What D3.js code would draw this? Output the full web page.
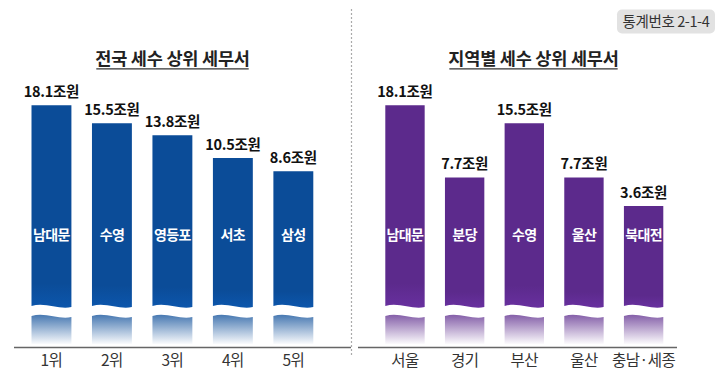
<!DOCTYPE html>
<html><head><meta charset="utf-8">
<script src="https://cdn.jsdelivr.net/npm/d3@7/dist/d3.min.js"></script>
<style>
html,body{margin:0;padding:0;background:#fff;}
svg{display:block;font-family:"Noto Sans CJK KR","Noto Sans",sans-serif;}
</style></head>
<body>
<svg id="chart" width="720" height="382"></svg>
<script>
// ---- data ----
const leftTitle = "전국 세수 상위 세무서";
const leftCategories = ["1위", "2위", "3위", "4위", "5위"];
const leftOffices = ["남대문", "수영", "영등포", "서초", "삼성"];
const leftValues = [18.1, 15.5, 13.8, 10.5, 8.6];

const rightTitle = "지역별 세수 상위 세무서";
const rightCategories = ["서울", "경기", "부산", "울산", "충남·세종"];
const rightOffices = ["남대문", "분당", "수영", "울산", "북대전"];
const rightValues = [18.1, 7.7, 15.5, 7.7, 3.6];

const unit = "조원";
const badgeText = "통계번호 2-1-4";

// ---- drawing ----
const svg = d3.select("#chart");
const defs = svg.append("defs");

const y = d3.scaleLinear().domain([0, 18.1]).range([230.9, 105.3]);
const barBottom = 344;
const waveUpper = 306;
const waveLower = 316;
const axisY = 347.5;

function gradient(id, color) {
  const g = defs.append("linearGradient").attr("id", id)
    .attr("x1", 0).attr("y1", 0).attr("x2", 0).attr("y2", 1);
  g.append("stop").attr("offset", "0%").attr("stop-color", color).attr("stop-opacity", 0.75);
  g.append("stop").attr("offset", "100%").attr("stop-color", color).attr("stop-opacity", 0.02);
  const g2 = defs.append("linearGradient").attr("id", id + "u")
    .attr("x1", 0).attr("y1", 0).attr("x2", 0).attr("y2", 1);
  g2.append("stop").attr("offset", "0%").attr("stop-color", color);
  g2.append("stop").attr("offset", "88%").attr("stop-color", color);
  g2.append("stop").attr("offset", "100%").attr("stop-color", d3.color(color).brighter(0.35));
}

function panel(opts) {
  const { cats, offices, values, color, range, title, titleX, axisRange, id } = opts;
  gradient(id, color);
  const x = d3.scaleBand().domain(cats).range(range).paddingInner(0.34).paddingOuter(0);
  const g = svg.append("g");
  const bw = x.bandwidth();

  cats.forEach((c, i) => {
    const x0 = x(c), x1 = x0 + bw, top = y(values[i]);
    g.append("path")
      .attr("d", `M${x0},${top}L${x1},${top}L${x1},${waveUpper + 1}` +
        `C${x1 - bw * 0.3},${waveUpper + 4} ${x0 + bw * 0.35},${waveUpper - 4} ${x0},${waveUpper}Z`)
      .attr("fill", `url(#${id}u)`);
    g.append("path")
      .attr("d", `M${x0},${barBottom}L${x0},${waveLower}` +
        `C${x0 + bw * 0.35},${waveLower - 4} ${x1 - 0.3 * bw},${waveLower + 4} ${x1},${waveLower + 1}` +
        `L${x1},${barBottom}Z`)
      .attr("fill", `url(#${id})`);
    g.append("text")
      .attr("x", x0 + bw / 2).attr("y", top - 8)
      .attr("text-anchor", "middle")
      .attr("font-size", 14.5).attr("font-weight", 700)
      .attr("letter-spacing", -0.3)
      .attr("fill", "#111")
      .text(values[i] + unit);
    g.append("text")
      .attr("x", x0 + bw / 2).attr("y", 240)
      .attr("text-anchor", "middle")
      .attr("font-size", 14).attr("font-weight", 700)
      .attr("letter-spacing", -0.6)
      .attr("fill", "#fff")
      .text(offices[i]);
    g.append("text")
      .attr("x", x0 + bw / 2).attr("y", 366)
      .attr("text-anchor", "middle")
      .attr("font-size", 15.5)
      .attr("letter-spacing", -0.5)
      .attr("fill", "#333")
      .text(c);
  });

  g.append("line")
    .attr("x1", axisRange[0]).attr("x2", axisRange[1])
    .attr("y1", axisY).attr("y2", axisY)
    .attr("stroke", "#666").attr("stroke-width", 1.6);

  const t = g.append("text")
    .attr("x", titleX).attr("y", 65)
    .attr("text-anchor", "middle")
    .attr("font-size", 17.5).attr("font-weight", 700)
    .attr("letter-spacing", -0.2)
    .attr("fill", "#222")
    .text(title);
  const bb = t.node().getBBox();
  g.append("line")
    .attr("x1", bb.x + 1).attr("x2", bb.x + bb.width - 1)
    .attr("y1", 68.8).attr("y2", 68.8)
    .attr("stroke", "#333").attr("stroke-width", 1.3);
}

panel({ id: "gL", cats: leftCategories, offices: leftOffices, values: leftValues,
  color: "#0b4c98", range: [31.5, 313.3], title: leftTitle, titleX: 172.5,
  axisRange: [14, 351] });
panel({ id: "gR", cats: rightCategories, offices: rightOffices, values: rightValues,
  color: "#5c2a8c", range: [385.3, 663.3], title: rightTitle, titleX: 533.5,
  axisRange: [358, 677] });

svg.append("line")
  .attr("x1", 351.5).attr("x2", 351.5).attr("y1", 9).attr("y2", 357)
  .attr("stroke", "#aaa").attr("stroke-width", 1.2)
  .attr("stroke-dasharray", "2,2");

svg.append("rect")
  .attr("x", 617).attr("y", 9.5).attr("width", 98).attr("height", 24).attr("rx", 5)
  .attr("fill", "#e2e2e2");
svg.append("text")
  .attr("x", 666).attr("y", 26.5).attr("text-anchor", "middle")
  .attr("font-size", 14.5).attr("letter-spacing", -0.4).attr("fill", "#333")
  .text(badgeText);
</script>
</body></html>
